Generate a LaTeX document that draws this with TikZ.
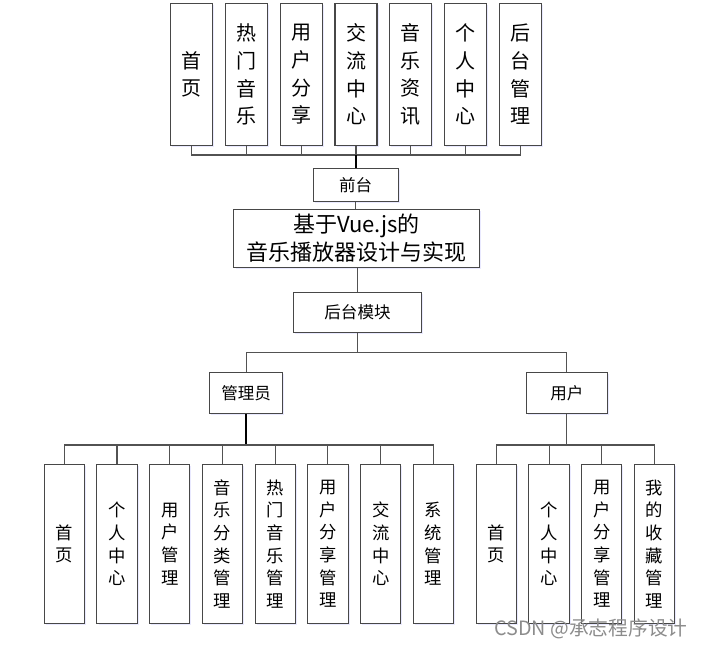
\documentclass[tikz,border=0pt]{standalone}
\usepackage{fontspec}
\newfontfamily\cjk{Noto Sans CJK SC}
\usetikzlibrary{shadows}
\begin{document}
\begin{tikzpicture}[x=0.75pt,y=-0.75pt,
  box/.style={draw=black!72, line width=0.8pt, fill=white, inner sep=0pt, align=center,
    drop shadow={shadow xshift=1.2pt, shadow yshift=-1.2pt, fill=blue!12, opacity=0.7}},
  topbox/.style={box, minimum width=42*0.75pt, minimum height=142.4*0.75pt,
    font=\cjk\fontsize{15pt}{20.8pt}\selectfont},
  botbox/.style={box, minimum width=40.2*0.75pt, minimum height=158.6*0.75pt,
    font=\cjk\fontsize{13pt}{17pt}\selectfont},
  midbox/.style={box, font=\cjk\fontsize{12.4pt}{15pt}\selectfont},
  conn/.style={draw=black!68, line width=0.8pt},
  thick conn/.style={draw=black, line width=1.6pt}
]
\useasboundingbox (0,0) rectangle (702,647);

% top boxes
\foreach \i/\t in {0/{首\\页},1/{热\\门\\音\\乐},2/{用\\户\\分\\享},3/{交\\流\\中\\心},4/{音\\乐\\资\\讯},5/{个\\人\\中\\心},6/{后\\台\\管\\理}}{
  \node[topbox] (t\i) at ({191.7+54.77*\i},74.5) {\t};
}
\node[midbox, minimum width=85.3*0.75pt, minimum height=33.4*0.75pt] (qt) at (355.7,185) {前台};
\node[box, minimum width=245.5*0.75pt, minimum height=57.8*0.75pt,
  font=\cjk\fontsize{16.5pt}{21pt}\selectfont] (main) at (356.7,238.4) {基于Vue.js的\\音乐播放器设计与实现};
\node[midbox, minimum width=127.8*0.75pt, minimum height=40*0.75pt] (hm) at (357.5,312.3) {后台模块};
\node[midbox, minimum width=72.8*0.75pt, minimum height=40.6*0.75pt] (gly) at (246.2,393) {管理员};
\node[midbox, minimum width=81.2*0.75pt, minimum height=40.6*0.75pt] (yh) at (566.9,393) {用户};

% admin boxes
\foreach \i/\t in {0/{首\\页},1/{个\\人\\中\\心},2/{用\\户\\管\\理},3/{音\\乐\\分\\类\\管\\理},4/{热\\门\\音\\乐\\管\\理},5/{用\\户\\分\\享\\管\\理},6/{交\\流\\中\\心},7/{系\\统\\管\\理}}{
  \node[botbox] (a\i) at ({64.3+52.73*\i},544) {\t};
}
% user boxes
\foreach \i/\t in {0/{首\\页},1/{个\\人\\中\\心},2/{用\\户\\分\\享\\管\\理},3/{我\\的\\收\\藏\\管\\理}}{
  \node[botbox] (u\i) at ({496.4+52.63*\i},544) {\t};
}

% connectors
\coordinate (tbus) at (356,155);
\foreach \i in {0,...,6}{ \draw[conn] (t\i.south) |- (tbus); }
\draw[thick conn] (tbus) -- (tbus |- qt.north);
\draw[conn] (qt.south) -- (qt.south |- main.north);
\draw[conn] (main.south -| hm.north) -- (hm.north);
\coordinate (mbus) at (357.5,352.3);
\draw[conn] (hm.south) -- (mbus);
\draw[conn] (gly.north) |- (mbus);
\draw[conn] (yh.north) |- (mbus);
\coordinate (abus) at (246.2,445);
\draw[thick conn] (gly.south) -- (abus);
\foreach \i in {0,...,7}{ \draw[conn] (a\i.north) |- (abus); }
\coordinate (ubus) at (566.9,445);
\draw[conn] (yh.south) -- (ubus);
\foreach \i in {0,...,3}{ \draw[conn] (u\i.north) |- (ubus); }

\node[font=\cjk\fontsize{14.8pt}{16pt}\selectfont, text=black!45, inner sep=0pt] (wm) at (591,628.5) {CSDN @承志程序设计};
\end{tikzpicture}
\end{document}
